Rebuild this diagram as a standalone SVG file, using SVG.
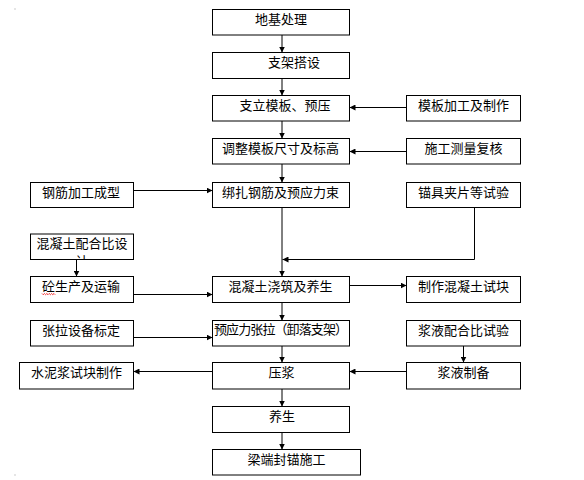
<svg xmlns="http://www.w3.org/2000/svg" width="584" height="480" viewBox="0 0 584 480">
<style>
.b{fill:#fff;stroke:#000;stroke-width:1}
.t{font-family:"Noto Sans CJK SC","Noto Sans",sans-serif;font-size:13px;fill:#000}
.c{fill:none;stroke:#000;stroke-width:1}
</style>
<defs>
<marker id="ah" viewBox="0 0 6 6" refX="6" refY="3" markerWidth="6" markerHeight="6" markerUnits="userSpaceOnUse" orient="auto">
<path d="M0,0 L6,3 L0,6 z" fill="#000"/>
</marker>
<clipPath id="clipMix"><rect x="30.5" y="234" width="103" height="25"/></clipPath>
</defs>
<rect width="584" height="480" fill="#fff"/>
<rect x="14.5" y="8.5" width="1" height="1" fill="#999"/>
<rect x="14.5" y="474.5" width="1" height="1" fill="#999"/>

<g id="connectors">
<line class="c" x1="282" y1="35" x2="282" y2="52.5" marker-end="url(#ah)"/>
<line class="c" x1="282" y1="78.5" x2="282" y2="95.5" marker-end="url(#ah)"/>
<line class="c" x1="282" y1="121" x2="282" y2="138.5" marker-end="url(#ah)"/>
<line class="c" x1="282" y1="164" x2="282" y2="182.5" marker-end="url(#ah)"/>
<line class="c" x1="282" y1="207.5" x2="282" y2="276.5" marker-end="url(#ah)"/>
<line class="c" x1="282" y1="302.5" x2="282" y2="320.5" marker-end="url(#ah)"/>
<line class="c" x1="282" y1="346" x2="282" y2="362.5" marker-end="url(#ah)"/>
<line class="c" x1="282" y1="389" x2="282" y2="406.5" marker-end="url(#ah)"/>
<line class="c" x1="282" y1="432.5" x2="282" y2="449.5" marker-end="url(#ah)"/>
<line class="c" x1="406.5" y1="107.5" x2="349.5" y2="107.5" marker-end="url(#ah)"/>
<line class="c" x1="406.5" y1="151.5" x2="349.5" y2="151.5" marker-end="url(#ah)"/>
<line class="c" x1="133.5" y1="190.5" x2="212.5" y2="190.5" marker-end="url(#ah)"/>
<polyline class="c" points="474.5,207.5 474.5,259.5 282.5,259.5" marker-end="url(#ah)"/>
<line class="c" x1="76.5" y1="259.5" x2="76.5" y2="276.5" marker-end="url(#ah)"/>
<line class="c" x1="133.5" y1="294.5" x2="212.5" y2="294.5" marker-end="url(#ah)"/>
<line class="c" x1="349.5" y1="285.5" x2="406.5" y2="285.5" marker-end="url(#ah)"/>
<line class="c" x1="133.5" y1="337.5" x2="212.5" y2="337.5" marker-end="url(#ah)"/>
<line class="c" x1="463.5" y1="346" x2="463.5" y2="362.5" marker-end="url(#ah)"/>
<line class="c" x1="212.5" y1="371.5" x2="133.5" y2="371.5" marker-end="url(#ah)"/>
<line class="c" x1="406.5" y1="371.5" x2="349.5" y2="371.5" marker-end="url(#ah)"/>
</g>

<g id="n1"><rect class="b" x="212.5" y="9.5" width="137" height="25.5"/><text class="t" x="255" y="23.5">地基处理</text></g>
<g id="n2"><rect class="b" x="212.5" y="52.5" width="137" height="26"/><text class="t" x="268" y="66.5">支架搭设</text></g>
<g id="n3"><rect class="b" x="212.5" y="95.5" width="137" height="25.5"/><text class="t" x="239.5" y="109.5">支立模板、预压</text></g>
<g id="n4"><rect class="b" x="212.5" y="138.5" width="137" height="25.5"/><text class="t" x="222" y="152.5">调整模板尺寸及标高</text></g>
<g id="n5"><rect class="b" x="212.5" y="182.5" width="137" height="25"/><text class="t" x="222" y="196.5">绑扎钢筋及预应力束</text></g>
<g id="n6"><rect class="b" x="212.5" y="276.5" width="137" height="26"/><text class="t" x="228.5" y="290.5">混凝土浇筑及养生</text></g>
<g id="n7"><rect class="b" x="212.5" y="320.5" width="137" height="25.5"/><text class="t" x="214" y="334" textLength="134" lengthAdjust="spacing">预应力张拉（卸落支架）</text></g>
<g id="n8"><rect class="b" x="212.5" y="362.5" width="137" height="26.5"/><text class="t" x="268.5" y="376.5">压浆</text></g>
<g id="n9"><rect class="b" x="212.5" y="406.5" width="137" height="26"/><text class="t" x="269" y="420.5">养生</text></g>
<g id="n10"><rect class="b" x="212.5" y="449.5" width="148" height="25.5"/><text class="t" x="247.5" y="463.5">梁端封锚施工</text></g>

<g id="r1"><rect class="b" x="406.5" y="95.5" width="114" height="25.5"/><text class="t" x="418" y="109.5">模板加工及制作</text></g>
<g id="r2"><rect class="b" x="406.5" y="138.5" width="114" height="25.5"/><text class="t" x="424.5" y="152.5">施工测量复核</text></g>
<g id="r3"><rect class="b" x="406.5" y="182.5" width="114" height="25"/><text class="t" x="418" y="196.5">锚具夹片等试验</text></g>
<g id="r4"><rect class="b" x="406.5" y="276.5" width="114" height="26"/><text class="t" x="418" y="290.5">制作混凝土试块</text></g>
<g id="r5"><rect class="b" x="406.5" y="320.5" width="114" height="25.5"/><text class="t" x="418" y="334.5">浆液配合比试验</text></g>
<g id="r6"><rect class="b" x="406.5" y="362.5" width="114" height="26.5"/><text class="t" x="437.5" y="376.5">浆液制备</text></g>

<g id="l1"><rect class="b" x="30.5" y="182.5" width="103" height="25"/><text class="t" x="42" y="196.5">钢筋加工成型</text></g>
<g id="l2"><rect class="b" x="30.5" y="234" width="103" height="25.5"/><text class="t" text-anchor="middle" clip-path="url(#clipMix)"><tspan x="82" y="247.5">混凝土配合比设</tspan><tspan x="82" y="265.5">计</tspan></text></g>
<g id="l3"><rect class="b" x="30.5" y="276.5" width="103" height="26"/><text class="t" x="42" y="290.5">砼生产及运输</text><path d="M42,293.5 l1.2,1.2 l1.2,-1.2 l1.2,1.2 l1.2,-1.2 l1.2,1.2 l1.2,-1.2 l1.2,1.2 l1.2,-1.2 l1.2,1.2 l1.2,-1.2 l1.2,1.2" fill="none" stroke="#e00" stroke-width="0.8"/></g>
<g id="l4"><rect class="b" x="30.5" y="320.5" width="103" height="25.5"/><text class="t" x="42" y="334.5">张拉设备标定</text></g>
<g id="l5"><rect class="b" x="19.5" y="362.5" width="114" height="26.5"/><text class="t" x="31" y="376.5">水泥浆试块制作</text></g>
</svg>
